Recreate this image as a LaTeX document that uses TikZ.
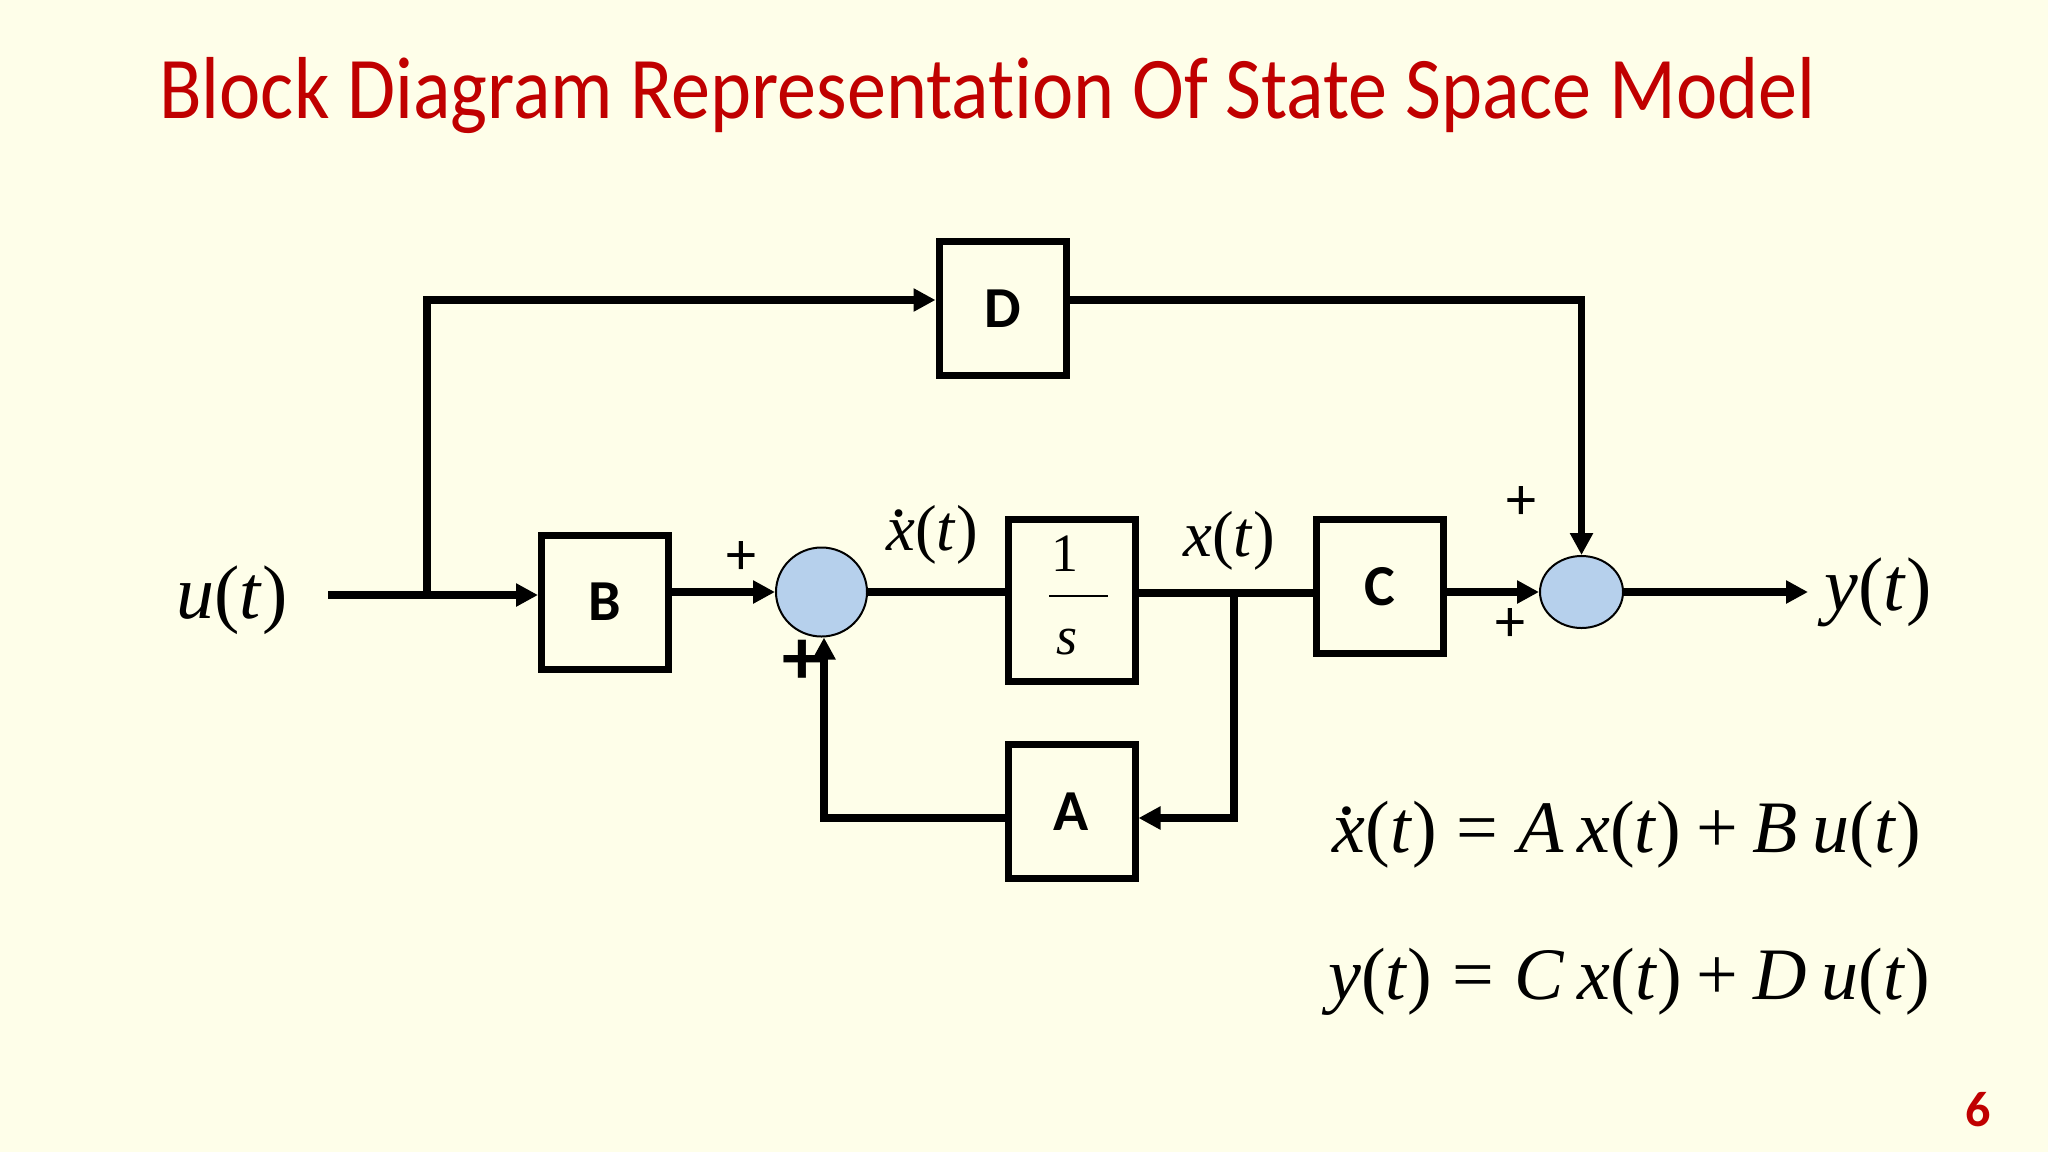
\documentclass[tikz,border=0pt]{standalone}
\usepackage{fontspec}
\setmainfont{Liberation Serif}
\newfontfamily\calib{Carlito}
\newfontfamily\calibt[Ligatures={NoCommon,NoContextual}]{Carlito}
\usetikzlibrary{arrows.meta,shapes.geometric}
\definecolor{bgc}{RGB}{254,254,233}
\definecolor{titred}{RGB}{192,0,0}
\definecolor{sumblue}{RGB}{182,208,236}
\newcommand{\xdot}{\textit{x}\llap{\raisebox{0.52em}{\textit{.}}\hspace{0.1em}}}
\newcommand{\mt}[1]{\textit{#1}}
\begin{document}
\begin{tikzpicture}[x=0.5pt,y=-0.5pt,
  blk/.style={draw, line width=3.5pt, minimum width=63.5pt, minimum height=67pt, inner sep=0pt, font=\calib\bfseries\fontsize{29pt}{29pt}\selectfont},
  sig/.style={line width=3.75pt},
  arr/.style={sig, -{Triangle[length=11pt,width=11pt]}},
  sumj/.style={ellipse, draw=black, line width=1pt, fill=sumblue, inner sep=0pt},
  lbl/.style={inner sep=0pt, font=\fontsize{38pt}{38pt}\selectfont},
  slbl/.style={inner sep=0pt, font=\fontsize{32.5pt}{32.5pt}\selectfont},
  eqn/.style={inner sep=0pt, font=\fontsize{37pt}{37pt}\selectfont},
  plus/.style={inner sep=0pt, font=\calib\fontsize{30pt}{30pt}\selectfont},
  bplus/.style={inner sep=0pt, font=\calib\bfseries\fontsize{40pt}{40pt}\selectfont}
]
\fill[bgc] (0,0) rectangle (2048,1152);
\useasboundingbox (0,0) rectangle (2048,1152);

\node[anchor=base west, text=titred, inner sep=0pt, font=\calibt\fontsize{44pt}{44pt}\selectfont] (title) at (159,118) {\scalebox{0.888}[1]{Block Diagram Representation Of State Space Model}};
\node[text=titred, inner sep=0pt, font=\calib\bfseries\fontsize{25pt}{25pt}\selectfont] (pg) at (1978,1110) {6};

% blocks
\node[blk] (D) at (1002.5,308.5) {D};
\node[blk] (B) at (605,602) {B};
\node[blk, minimum height=81pt] (I) at (1072,600.5) {};
\node[blk] (C) at (1380,586.5) {C};
\node[blk] (A) at (1071.5,811.5) {A};

% summing junctions
\node[sumj, minimum width=45.5pt, minimum height=44.5pt] (s1) at (821.5,592) {};
\node[sumj, minimum width=41.5pt, minimum height=36pt] (s2) at (1581.5,592) {};

% fraction 1/s
\node[inner sep=0pt, font=\fontsize{27pt}{27pt}\selectfont] (one) at (1065,554) {1};
\node[inner sep=0pt, font=\fontsize{27pt}{27pt}\selectfont] (ess) at (1067,642) {\mt{s}};
\coordinate (barl) at (1049,596);
\coordinate (barr) at (1108,596);
\draw[line width=1pt] (barl) -- (barr);

% coordinates
\coordinate (uin) at (328,595);
\coordinate (br1) at (427,595);
\coordinate (dtop) at (427,300);
\coordinate (br2) at (1234,593);
\coordinate (aline) at (1234,818);
\coordinate (yout) at (1808,592);
\coordinate (fbk) at (824,818);

% connectors
\draw[arr] (uin) -- (B.west |- uin);
\draw[arr, line join=miter] (br1) -- (dtop) -- (D.west |- dtop);
\draw[arr, line join=miter] (D.east |- dtop) -| (s2.north);
\draw[arr] (B.east |- s1.west) -- (s1.west);
\draw[sig] (s1.east) -- (I.west |- s1.east);
\draw[sig] (I.east |- br2) -- (C.west |- br2);
\draw[arr, line join=miter] (br2) -- (aline) -- (A.east |- aline);
\draw[arr, line join=miter] (A.west |- aline) -- (fbk) -- (fbk |- s1.south);

% signal labels
\node[lbl] (ul) at (232,600) {\mt{u}(\mt{t})};
\node[lbl] (yl) at (1878,592) {\mt{y}(\mt{t})};
\node[slbl] (xdl) at (932,535) {\xdot(\mt{t})};
\node[slbl] (xl) at (1229,541) {\mt{x}(\mt{t})};
\draw[arr] (C.east |- s2.west) -- (s2.west);
\draw[arr] (s2.east) -- (yout);

% signs
\node[plus] (p1) at (741,558) {+};
\node[bplus] (p2) at (802,662) {+};
\node[plus] (p3) at (1521,503) {+};
\node[plus] (p4) at (1510,625) {+};

% equations
\node[eqn] (eq1) at (1627,835) {\xdot(\mt{t})\hspace{0.27em}=\hspace{0.27em}\mt{A}\hspace{0.18em}\mt{x}(\mt{t})\hspace{0.2em}+\hspace{0.2em}\mt{B}\hspace{0.2em}\mt{u}(\mt{t})};
\node[eqn] (eq2) at (1629,982) {\mt{y}(\mt{t})\hspace{0.27em}=\hspace{0.27em}\mt{C}\hspace{0.18em}\mt{x}(\mt{t})\hspace{0.2em}+\hspace{0.2em}\mt{D}\hspace{0.2em}\mt{u}(\mt{t})};
\end{tikzpicture}
\end{document}
